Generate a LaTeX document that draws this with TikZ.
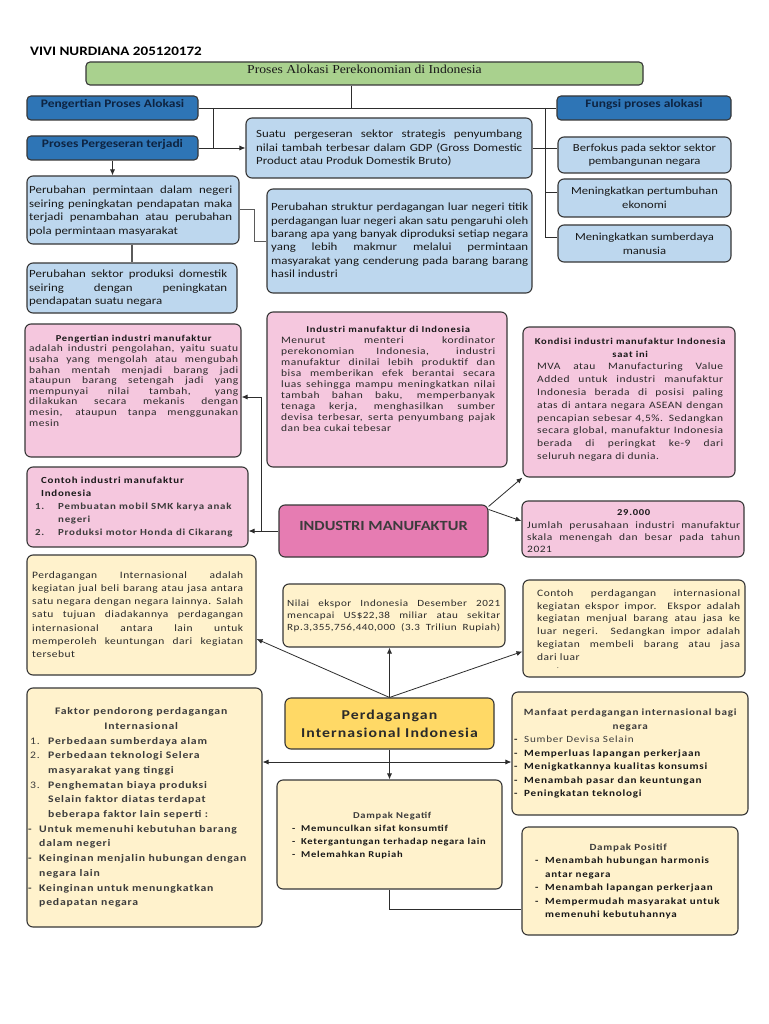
\documentclass[tikz,border=0pt]{standalone}
\usepackage{fontspec}
\usepackage{graphicx}
\setmainfont{Carlito}[FakeStretch=1.17]
\newfontfamily\wf{Carlito}[FakeStretch=1.17,LetterSpace=8]
\newfontfamily\wfr{Carlito}[FakeStretch=1.17,LetterSpace=5]
\newfontfamily\serf{Liberation Serif}[FakeStretch=1.12]
\usetikzlibrary{arrows.meta,fit}
\definecolor{bdr}{RGB}{55,55,55}
\definecolor{lnc}{RGB}{45,45,45}
\definecolor{lng}{RGB}{90,90,90}
\definecolor{greenf}{RGB}{169,209,142}
\definecolor{hblue}{RGB}{46,117,182}
\definecolor{navy}{RGB}{14,36,66}
\definecolor{lblue}{RGB}{189,215,238}
\definecolor{pinkl}{RGB}{245,199,222}
\definecolor{pinkd}{RGB}{230,124,178}
\definecolor{yell}{RGB}{255,242,204}
\definecolor{gold}{RGB}{255,217,102}
\definecolor{tbk}{RGB}{25,25,25}
\definecolor{tgr}{RGB}{60,60,60}
\definecolor{tbd}{RGB}{42,42,42}
\newlength\lw
\newsavebox\lbox
\newcommand\jln[1]{\sbox\lbox{#1}\ifdim\wd\lbox>\lw\resizebox{\lw}{\height}{\usebox\lbox}\else\makebox[\lw][s]{#1}\fi}
\newcommand\lln[1]{\sbox\lbox{#1}\ifdim\wd\lbox>\lw\resizebox{\lw}{\height}{\usebox\lbox}\else\makebox[\lw][l]{\usebox\lbox}\fi}
\newcommand\cln[1]{\makebox[\lw][c]{#1}}
\newcommand\ttl[1]{{\wf\fontsize{9}{11}\selectfont\bfseries\color{tbk}#1}}
\tikzset{
  bx/.style={draw=bdr, line width=1.1pt, rounded corners=6pt, inner sep=0pt},
  hdr/.style={bx, fill=hblue, rounded corners=4pt, text=navy, font={\fontsize{11.5}{14}\selectfont\bfseries}},
  lb/.style={bx, fill=lblue},
  pk/.style={bx, fill=pinkl},
  pkd/.style={bx, fill=pinkd},
  yl/.style={bx, fill=yell},
  gd/.style={bx, fill=gold},
  gr/.style={bx, fill=greenf, rounded corners=4pt},
  tx/.style={inner sep=0pt, align=left, anchor=west},
  ctx/.style={inner sep=0pt, align=center, anchor=center},
  lwd/.style={execute at begin node={\setlength{\lw}{#1pt}}},
  ln/.style={draw=lnc, line width=0.8pt},
  lnt/.style={draw=lng, line width=1.6pt},
  ar/.style={ln, -{Latex[length=6pt,width=5pt]}}
}
\begin{document}
\begin{tikzpicture}[x=1pt,y=-1pt]
\fill[white] (0,0) rectangle (768,1024);
\useasboundingbox (0,0) rectangle (768,1024);

% ---- header
\node[anchor=west, inner sep=0pt, font={\fontsize{12.9}{15}\selectfont\bfseries}, text=black] (nm) at (30,51) {VIVI NURDIANA 205120172};
\node[gr, fit={(86,62) (643,85)}, font={\serf\fontsize{12.2}{14}\selectfont}, text=tbk] (ti) {Proses Alokasi Perekonomian di Indonesia};

\node[hdr, fit={(27,96) (198,120)}] (pa) {Pengertian Proses Alokasi};
\node[hdr, fit={(27,136) (198,160)}] (pp) {Proses Pergeseran terjadi};
\node[hdr, fit={(557,96) (731,120)}] (fa) {Fungsi proses alokasi};

% ---- light blue boxes
\node[lb, fit={(246,118) (532,178)}] (su) {};
\node[tx, lwd=266, font={\fontsize{11}{13.3}\selectfont}, text=tbk] (sut) at (256,148)
 {\jln{Suatu pergeseran sektor strategis penyumbang}\\
  \jln{nilai tambah terbesar dalam GDP (Gross Domestic}\\
  \lln{Product atau Produk Domestik Bruto)}};

\node[lb, fit={(558,137) (731,173)}] (bf) {};
\node[ctx, font={\fontsize{10.8}{13.6}\selectfont}, text=tbk] (bft) at (644.5,155) {Berfokus pada sektor sektor\\pembangunan negara};
\node[lb, fit={(558,179) (731,217)}] (mp) {};
\node[ctx, font={\fontsize{10.8}{13.6}\selectfont}, text=tbk] (mpt) at (644.5,197.5) {Meningkatkan pertumbuhan\\ekonomi};
\node[lb, fit={(558,225) (731,262)}] (ms) {};
\node[ctx, font={\fontsize{10.8}{13.6}\selectfont}, text=tbk] (mst) at (644.5,243.5) {Meningkatkan sumberdaya\\manusia};

\node[lb, fit={(27,176) (239,244)}] (pd) {};
\node[tx, lwd=203, font={\fontsize{11}{13.4}\selectfont}, text=tbk] (pdt) at (29,211)
 {\jln{Perubahan permintaan dalam negeri}\\
  \jln{seiring peningkatan pendapatan maka}\\
  \jln{terjadi penambahan atau perubahan}\\
  \lln{pola permintaan masyarakat}};

\node[lb, fit={(27,263) (237,313)}] (sk) {};
\node[tx, lwd=198, font={\fontsize{11}{13.5}\selectfont}, text=tbk] (skt) at (29,288.5)
 {\jln{Perubahan sektor produksi domestik}\\
  \jln{seiring dengan peningkatan}\\
  \lln{pendapatan suatu negara}};

\node[lb, fit={(267,189) (532,293)}] (st) {};
\node[tx, lwd=257, font={\fontsize{11}{13.4}\selectfont}, text=tbk] (stt) at (271,240.5)
 {\jln{Perubahan struktur perdagangan luar negeri titik}\\
  \jln{perdagangan luar negeri akan satu pengaruhi oleh}\\
  \jln{barang apa yang banyak diproduksi setiap negara}\\
  \jln{yang lebih makmur melalui permintaan}\\
  \jln{masyarakat yang cenderung pada barang barang}\\
  \lln{hasil industri}};

% ---- pink row
\node[pk, fit={(25,324) (241,457)}] (pi) {};
\node[tx, lwd=209, font={\wfr\fontsize{9.8}{10.6}\selectfont}, text=tbd] (pit) at (29,380.5)
 {\cln{\ttl{Pengertian industri manufaktur}}\\
  \jln{adalah industri pengolahan, yaitu suatu}\\
  \jln{usaha yang mengolah atau mengubah}\\
  \jln{bahan mentah menjadi barang jadi}\\
  \jln{ataupun barang setengah jadi yang}\\
  \jln{mempunyai nilai tambah, yang}\\
  \jln{dilakukan secara mekanis dengan}\\
  \jln{mesin, ataupun tanpa menggunakan}\\
  \lln{mesin}};

\node[pk, fit={(267,312) (507,467)}] (pm) {};
\node[tx, lwd=214, font={\wfr\fontsize{9.8}{11}\selectfont}, text=tbd] (pmt) at (281,378.5)
 {\cln{\ttl{Industri manufaktur di Indonesia}}\\
  \jln{Menurut menteri kordinator}\\
  \jln{perekonomian Indonesia, industri}\\
  \jln{manufaktur dinilai lebih produktif dan}\\
  \jln{bisa memberikan efek berantai secara}\\
  \jln{luas sehingga mampu meningkatkan nilai}\\
  \jln{tambah bahan baku, memperbanyak}\\
  \jln{tenaga kerja, menghasilkan sumber}\\
  \jln{devisa terbesar, serta penyumbang pajak}\\
  \lln{dan bea cukai tebesar}};

\node[pk, fit={(523,327) (735,477)}] (kd) {};
\node[tx, lwd=186, font={\wfr\fontsize{9.8}{12.8}\selectfont}, text=tbd] (kdt) at (537,399.6)
 {\cln{\ttl{Kondisi industri manufaktur Indonesia}}\\
  \cln{\ttl{saat ini}}\\
  \jln{MVA atau Manufacturing Value}\\
  \jln{Added untuk industri manufaktur}\\
  \jln{Indonesia berada di posisi paling}\\
  \jln{atas di antara negara ASEAN dengan}\\
  \jln{pencapian sebesar 4,5\%. Sedangkan}\\
  \jln{secara global, manufaktur Indonesia}\\
  \jln{berada di peringkat ke-9 dari}\\
  \lln{seluruh negara di dunia.}};

\node[pk, fit={(522,501) (744,557)}] (nb) {};
\node[tx, lwd=213, font={\wfr\fontsize{9.8}{12.2}\selectfont}, text=tbd] (nbt) at (527,531.3)
 {\cln{\ttl{29.000}}\\
  \jln{Jumlah perusahaan industri manufaktur}\\
  \jln{skala menengah dan besar pada tahun}\\
  \lln{2021}};

\node[pkd, fit={(279,505) (488,557)}, font={\fontsize{14}{17}\selectfont\bfseries}, text=tgr] (im) {INDUSTRI MANUFAKTUR};

\node[pk, fit={(27,467) (248,547)}] (ci) {};
\node[tx, lwd=205, font={\wf\fontsize{9.3}{13}\selectfont\bfseries}, text=tgr] (cit) at (35,507)
 {\lln{\hspace*{6pt}\color{tbk}Contoh industri manufaktur}\\
  \lln{\hspace*{6pt}\color{tbk}Indonesia}\\
  \lln{\makebox[23pt][l]{1.}Pembuatan mobil SMK karya anak}\\
  \lln{\hspace*{23pt}negeri}\\
  \lln{\makebox[23pt][l]{2.}Produksi motor Honda di Cikarang}};

% ---- yellow row
\node[yl, fit={(27,555) (256,675)}] (pa2) {};
\node[tx, lwd=211, font={\wfr\fontsize{9.8}{13.2}\selectfont}, text=tbd] (pa2t) at (32,614.5)
 {\jln{Perdagangan Internasional adalah}\\
  \jln{kegiatan jual beli barang atau jasa antara}\\
  \jln{satu negara dengan negara lainnya. Salah}\\
  \jln{satu tujuan diadakannya perdagangan}\\
  \jln{internasional antara lain untuk}\\
  \jln{memperoleh keuntungan dari kegiatan}\\
  \lln{tersebut}};

\node[yl, fit={(283,584) (505,647)}] (ne) {};
\node[tx, lwd=213, font={\wfr\fontsize{9.5}{12}\selectfont}, text=tbd] (net) at (287,615.5)
 {\jln{Nilai ekspor Indonesia Desember 2021}\\
  \jln{mencapai US\$22,38 miliar atau sekitar}\\
  \jln{Rp.3,355,756,440,000 (3.3 Triliun Rupiah)}};

\node[yl, fit={(523,580) (745,677)}] (cp) {};
\node[tx, lwd=203, font={\wfr\fontsize{9.8}{12.8}\selectfont}, text=tbd] (cpt) at (537,625)
 {\jln{Contoh perdagangan internasional}\\
  \jln{kegiatan ekspor impor. Ekspor adalah}\\
  \jln{kegiatan menjual barang atau jasa ke}\\
  \jln{luar negeri. Sedangkan impor adalah}\\
  \jln{kegiatan membeli barang atau jasa}\\
  \lln{dari luar}};
\node[inner sep=0pt, font={\fontsize{7}{8}\selectfont}, text=tgr] (cpd) at (558,668) {.};

\node[gd, fit={(285,698) (494,749)}] (pii) {};
\node[ctx, font={\wf\fontsize{13.5}{18}\selectfont\bfseries}, text=tbd] (piit) at (389.5,724) {Perdagangan\\Internasional Indonesia};

\node[yl, fit={(27,688) (262,927)}] (fk) {};
\node[tx, lwd=226, font={\wf\fontsize{10}{14.7}\selectfont\bfseries}, text=tgr] (fkt) at (28,807.5)
 {\cln{Faktor pendorong perdagangan}\\
  \cln{Internasional}\\
  \lln{\hspace*{2pt}\makebox[18pt][l]{\mdseries 1.}Perbedaan sumberdaya alam}\\
  \lln{\hspace*{2pt}\makebox[18pt][l]{\mdseries 2.}Perbedaan teknologi Selera}\\
  \lln{\hspace*{20pt}masyarakat yang tinggi}\\
  \lln{\hspace*{2pt}\makebox[18pt][l]{\mdseries 3.}Penghematan biaya produksi}\\
  \lln{\hspace*{20pt}Selain faktor diatas terdapat}\\
  \lln{\hspace*{20pt}beberapa faktor lain seperti :}\\
  \lln{\makebox[11pt][l]{-}Untuk memenuhi kebutuhan barang}\\
  \lln{\hspace*{11pt}dalam negeri}\\
  \lln{\makebox[11pt][l]{-}Keinginan menjalin hubungan dengan}\\
  \lln{\hspace*{11pt}negara lain}\\
  \lln{\makebox[11pt][l]{-}Keinginan untuk menungkatkan}\\
  \lln{\hspace*{11pt}pedapatan negara}};

\node[yl, fit={(512,692) (748,815)}] (mf) {};
\node[tx, lwd=232, font={\wf\fontsize{9.5}{13.5}\selectfont\bfseries}, text=tbk] (mft) at (514,753.5)
 {\cln{\color{tgr}Manfaat perdagangan internasional bagi}\\
  \cln{\color{tgr}negara}\\
  \lln{\makebox[10pt][l]{-}{\mdseries\color{tgr}Sumber Devisa Selain}}\\
  \lln{\makebox[10pt][l]{-}Memperluas lapangan perkerjaan}\\
  \lln{\makebox[10pt][l]{-}Menigkatkannya kualitas konsumsi}\\
  \lln{\makebox[10pt][l]{-}Menambah pasar dan keuntungan}\\
  \lln{\makebox[10pt][l]{-}Peningkatan teknologi}};

\node[yl, fit={(277,780) (502,889)}] (dn) {};
\node[tx, lwd=204, font={\wf\fontsize{9}{13}\selectfont\bfseries}, text=tbk] (dnt) at (290,835.5)
 {\cln{\color{tgr}Dampak Negatif}\\
  \lln{\hspace*{2pt}\makebox[9pt][l]{-}Memunculkan sifat konsumtif}\\
  \lln{\hspace*{2pt}\makebox[9pt][l]{-}Ketergantungan terhadap negara lain}\\
  \lln{\hspace*{2pt}\makebox[9pt][l]{-}Melemahkan Rupiah}};

\node[yl, fit={(522,827) (738,935)}] (dp) {};
\node[tx, lwd=192, font={\wf\fontsize{9.4}{13.4}\selectfont\bfseries}, text=tbk] (dpt) at (532,881.5)
 {\cln{\color{tgr}Dampak Positif}\\
  \lln{\hspace*{3pt}\makebox[10pt][l]{-}Menambah hubungan harmonis}\\
  \lln{\hspace*{13pt}antar negara}\\
  \lln{\hspace*{3pt}\makebox[10pt][l]{-}Menambah lapangan perkerjaan}\\
  \lln{\hspace*{3pt}\makebox[10pt][l]{-}Mempermudah masyarakat untuk}\\
  \lln{\hspace*{13pt}memenuhi kebutuhannya}};

% ---- connectors top
\coordinate (tj) at (351,0);
\coordinate (lx) at (213,0);
\coordinate (rx) at (545,0);
\coordinate (b2) at (545,192);
\coordinate (b3) at (545,237);
\coordinate (cx) at (132,0);
\draw[ln] (tj |- ti.south) -- (tj |- pa.east);
\draw[ln] (pa.east) -- (fa.west);
\draw[ln] (lx |- pa.east) -- (lx |- pp.east);
\draw[ar] (pp.east) -- (su.west |- pp.east);
\draw[ln] (rx |- fa.west) -- (b3);
\draw[ln] (su.east) -- (su.east -| bf.west);
\draw[ln] (b2) -- (b2 -| mp.west);
\draw[ln] (b3) -- (b3 -| ms.west);
\draw[ar] (pp.south) -- (pp.south |- pd.north);
\draw[ln, draw=lng, line width=1pt] (pd.east) -- ++(15,0) |- (st.west);
\draw[lnt] (cx |- pd.south) -- (cx |- sk.north);

% ---- connectors middle
\coordinate (j1) at (261,397);
\coordinate (j2) at (261,531);
\draw[ar] (im.west) -- (ci.east |- im.west);
\draw[ar] (j2) -- (j1) -- (j1 -| pi.east);
\draw[ar] ([yshift=-2pt]im.north east) -- (kd.south west);
\draw[ar] ([yshift=-5pt]im.north east) -- ([yshift=8pt]nb.west);

% ---- connectors bottom
\coordinate (hy) at (0,762);
\draw[ar] (pii.north) -- ([yshift=-24pt]pa2.east);
\draw[ar] (pii.north) -- (pii.north |- ne.south);
\draw[ar] (pii.north) -- ([yshift=-23pt]cp.west);
\draw[ar] (pii.south |- hy) -- (fk.east |- hy);
\draw[ar] (pii.south |- hy) -- (mf.west |- hy);
\draw[ar] (pii.south) -- (dn.north);
\draw[ln] (dn.south) |- ([yshift=-28pt]dp.west);
\end{tikzpicture}
\end{document}
